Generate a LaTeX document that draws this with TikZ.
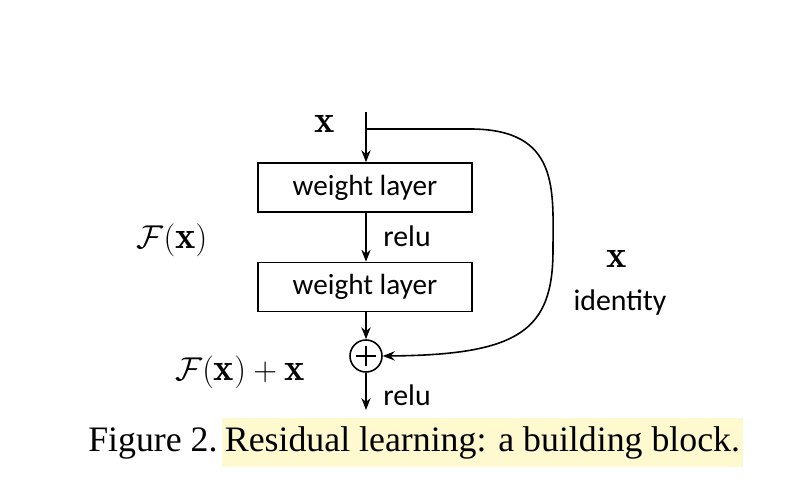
\documentclass[tikz,border=0pt]{standalone}
\usepackage{fontspec}
\setsansfont{Carlito}
\newfontfamily\capfont{Liberation Serif}
\usetikzlibrary{arrows.meta}
\begin{document}
\begin{tikzpicture}[x=0.0265cm,y=-0.0265cm,
  layerbox/.style={draw,line width=1.2pt,minimum width=214*0.0265cm,minimum height=49*0.0265cm,font=\sffamily\fontsize{22}{24}\selectfont},
  lbl/.style={font=\sffamily\fontsize{22.5}{24}\selectfont},
  mlbl/.style={font=\fontsize{29}{31}\selectfont},
  capstyle/.style={font=\capfont\fontsize{27}{29}\selectfont,inner sep=0pt},
  arr/.style={line width=1.2pt,-{Stealth[length=9pt,width=7pt]}}]
\useasboundingbox (0,0) rectangle (800,495);
\coordinate (top) at (366,112);
\node[mlbl] (xin) at (325,124) {$\mathbf{x}$};
\node[layerbox] (b1) at (365,187.5) {weight layer};
\node[layerbox] (b2) at (365,287) {weight layer};
\node[draw,circle,line width=1.2pt,minimum size=32*0.0265cm,inner sep=0pt] (plus) at (366,356) {};
\draw[line width=1.1pt] ([yshift=-5pt]plus.north) -- ([yshift=5pt]plus.south) ([xshift=5pt]plus.west) -- ([xshift=-5pt]plus.east);
\coordinate (out) at (366,410);
\draw[arr] (top) -- (b1.north -| top);
\draw[arr] (b1.south -| top) -- (b2.north -| top);
\draw[arr] (b2.south -| top) -- (plus);
\draw[arr] (plus) -- (out);
\draw[arr] (366,129) -- (470,129) .. controls (560,129) and (553,190) .. (553,250)
  .. controls (553,330) and (520,355) .. (plus.east);
\node[lbl] (r1) at (407,236) {relu};
\node[lbl] (r2) at (407,395) {relu};
\node[mlbl] (fx) at (172,240) {$\mathcal{F}(\mathbf{x})$};
\node[mlbl] (fxx) at (240,372) {$\mathcal{F}(\mathbf{x})+\mathbf{x}$};
\node[mlbl] (xid) at (617,259) {$\mathbf{x}$};
\node[lbl] (id) at (620,303) {identity};
\node[anchor=base west,capstyle] (cap1) at (88,451) {Figure 2.};
\node[anchor=base west,capstyle,fill=yellow!55!white!90!orange!30,inner ysep=6pt,inner xsep=2pt] (cap2) at (222,451) {Residual learning: a building block.};
\end{tikzpicture}
\end{document}
